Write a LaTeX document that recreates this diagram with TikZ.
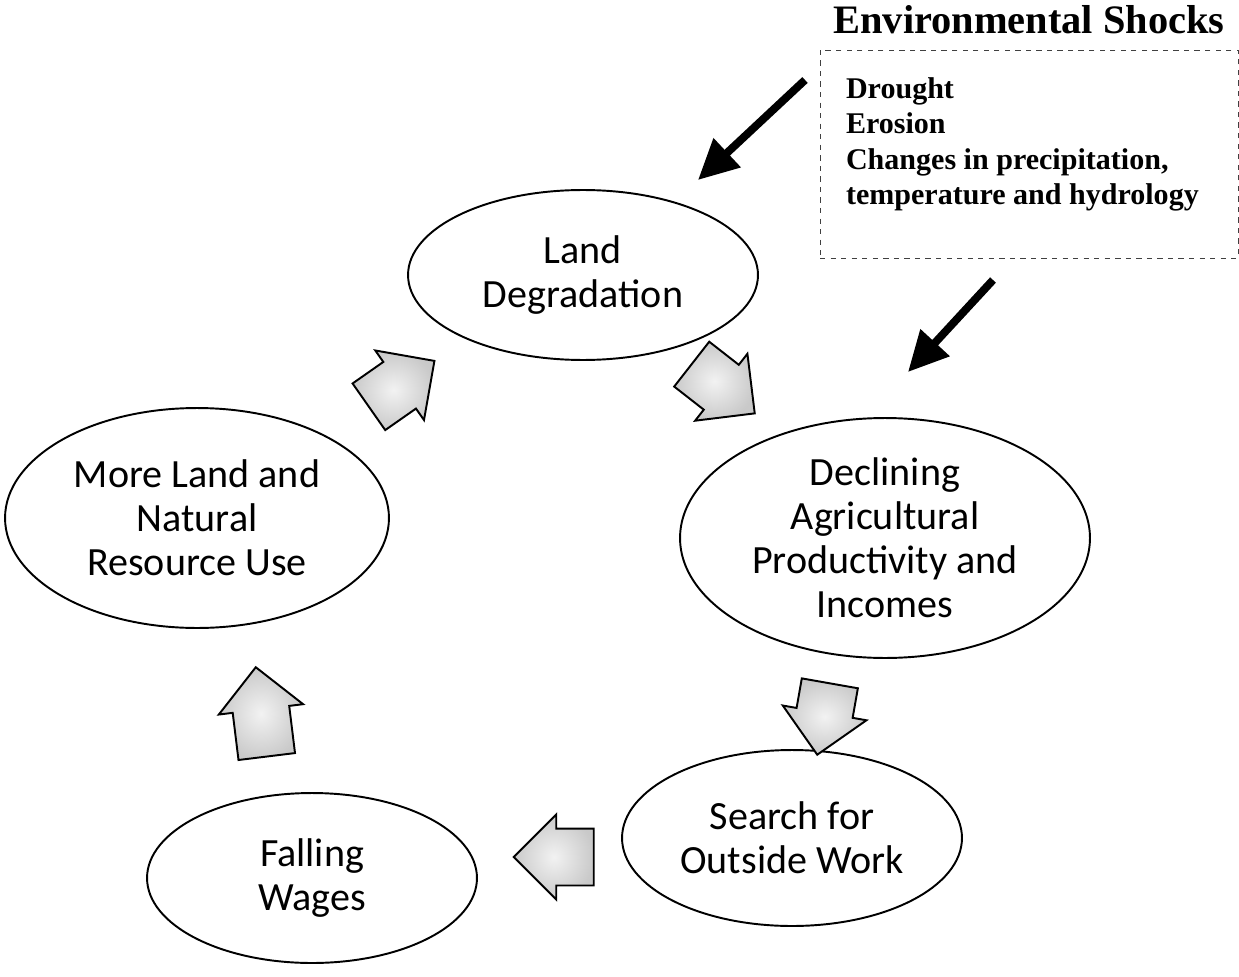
\documentclass[tikz,border=0pt]{standalone}
\usepackage{fontspec}
\setmainfont{Carlito}
\newfontfamily\shockfont{Liberation Serif}
\usetikzlibrary{shapes.geometric, shapes.arrows, arrows.meta, positioning}
\tikzset{
	cyclenode/.style={
			ellipse,
			draw=black,
			line width=1.1pt,
			fill=white,
			align=center,
			inner sep=0pt,
			font=\fontsize{22.8}{25}\selectfont
		},
	blockarrow/.style={
			single arrow,
			draw=black,
			line width=1.1pt,
			inner color=gray!10,
			outer color=gray!42,
			minimum height=1.6cm,
			minimum width=0pt,
			inner xsep=0pt,
			inner ysep=0.55cm,
			single arrow head extend=0.28cm
		},
	shockarrow/.style={
			line width=4.5pt,
			-{Triangle[length=8mm,width=7.6mm]}
		},
	shockbox/.style={
			draw=black!75,
			dashed,
			thin,
			minimum width=8.36cm,
			minimum height=4.16cm,
			inner sep=0pt
		},
	shocktext/.style={
			align=left,
			inner sep=0pt,
			font=\shockfont\bfseries\fontsize{17.1}{20}\selectfont
		}
}

\begin{document}
\begin{tikzpicture}[x=0.02cm, y=-0.02cm]
\useasboundingbox (0,0) rectangle (1239,976);

% the cycle
\node[cyclenode, minimum width=7cm, minimum height=3.4cm] (tDeg) at (583,275) {Land\\Degradation};
\node[cyclenode, minimum width=8.2cm, minimum height=4.8cm] (tDec) at (885,538) {Declining\\Agricultural\\Productivity and\\Incomes};
\node[cyclenode, minimum width=6.8cm, minimum height=3.52cm] (tSea) at (792,838) {Search for\\Outside Work};
\node[cyclenode, minimum width=6.6cm, minimum height=3.4cm] (tFal) at (312,878) {Falling\\Wages};
\node[cyclenode, minimum width=7.68cm, minimum height=4.4cm] (tMor) at (197,518) {More Land and\\Natural\\Resource Use};

\node[blockarrow, rotate=35] (bA) at (390,392) {};
\node[blockarrow, rotate=-38] (bB) at (712,380) {};
\node[blockarrow, rotate=-100, minimum height=1.45cm] (bC) at (826,705) {};
\node[blockarrow, rotate=180] (bD) at (568,857) {};
\node[blockarrow, rotate=97, minimum height=1.8cm] (bE) at (263,726) {};

% shocks
\node[shockbox] (shockBox) at (1029,154) {};
\node[shocktext, anchor=south, above=0.3cm of shockBox, font=\shockfont\bfseries\fontsize{23}{26}\selectfont] (shockTitle) {Environmental Shocks};
\node[shocktext, anchor=north west, below right=0.56cm and 0.52cm of shockBox.north west] (shockList) {Drought\\Erosion\\Changes in precipitation,\\temperature and hydrology};

\coordinate (sA) at (805,80);
\coordinate (eA) at (698,180);
\coordinate (sB) at (993,280);
\coordinate (eB) at (908,372);
\draw[shockarrow] (sA) -- (eA);
\draw[shockarrow] (sB) -- (eB);

\end{tikzpicture}
\end{document}
